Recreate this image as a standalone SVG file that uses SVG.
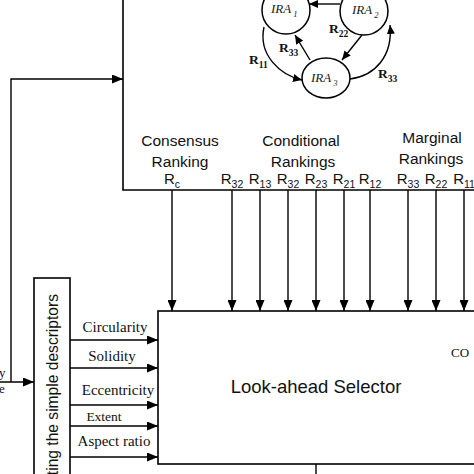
<svg xmlns="http://www.w3.org/2000/svg" width="474" height="474" viewBox="0 0 474 474">
<style>
.ln{fill:none;stroke:#000;stroke-width:1.4}
.box{fill:#fff;stroke:#000;stroke-width:1.6}
.sans{font-family:"Liberation Sans",Arial,sans-serif;fill:#111}
.serif{font-family:"Liberation Serif","Times New Roman",serif;fill:#111}
.ira{font-family:"Liberation Serif","Times New Roman",serif;font-style:italic;font-size:13px;fill:#222}
.rb{font-family:"Liberation Serif","Times New Roman",serif;font-weight:bold;font-size:13.5px;fill:#111}
.node{fill:#fff;stroke:#000;stroke-width:1.5}
</style>
<defs>
<marker id="ah" markerUnits="userSpaceOnUse" markerWidth="12" markerHeight="9" refX="11" refY="4.5" orient="auto">
<path d="M0,0 L11,4.5 L0,9 z" fill="#000"/>
</marker>
<marker id="ahs" markerUnits="userSpaceOnUse" markerWidth="10" markerHeight="8" refX="9" refY="4" orient="auto">
<path d="M0,0 L9,4 L0,8 z" fill="#000"/>
</marker>
</defs>
<rect width="474" height="474" fill="#fff"/>

<!-- top box (ranking generator) -->
<g id="ranking-box">
<path class="box" d="M123,-2 L123,190 L476,190" fill="none"/>
<g class="sans" font-size="15.5" text-anchor="middle">
<text x="180" y="146">Consensus</text>
<text x="180" y="167">Ranking</text>
<text x="301" y="146">Conditional</text>
<text x="303" y="167">Rankings</text>
<text x="432" y="143">Marginal</text>
<text x="431" y="164">Rankings</text>
</g>
<g class="sans" font-size="15" text-anchor="middle">
<text x="172" y="184">R<tspan font-size="10.5" dy="4">c</tspan></text>
<text x="232" y="184">R<tspan font-size="10.5" dy="4">32</tspan></text>
<text x="260" y="184">R<tspan font-size="10.5" dy="4">13</tspan></text>
<text x="288" y="184">R<tspan font-size="10.5" dy="4">32</tspan></text>
<text x="316" y="184">R<tspan font-size="10.5" dy="4">23</tspan></text>
<text x="344" y="184">R<tspan font-size="10.5" dy="4">21</tspan></text>
<text x="370" y="184">R<tspan font-size="10.5" dy="4">12</tspan></text>
<text x="408" y="184">R<tspan font-size="10.5" dy="4">33</tspan></text>
<text x="436" y="184">R<tspan font-size="10.5" dy="4">22</tspan></text>
<text x="464" y="184">R<tspan font-size="10.5" dy="4">11</tspan></text>
</g>
</g>

<!-- IRA graph nodes -->
<g id="ira1">
<circle class="node" cx="286" cy="10" r="24"/>
<text class="ira" x="271" y="13">IRA<tspan font-size="8.5" dx="2" dy="4">1</tspan></text>
</g>
<g id="ira2">
<circle class="node" cx="364" cy="11" r="24"/>
<text class="ira" x="352" y="14">IRA<tspan font-size="8.5" dx="2" dy="4">2</tspan></text>
</g>
<g id="ira3">
<ellipse class="node" cx="326" cy="78" rx="24" ry="20"/>
<text class="ira" x="311" y="82">IRA<tspan font-size="8.5" dx="2" dy="4">3</tspan></text>
</g>

<!-- descriptor box -->
<g id="descriptors">
<rect class="box" x="34" y="278" width="36" height="210"/>
<text class="sans" font-size="15.6" text-anchor="end" transform="translate(58,294) rotate(-90)">ting the simple descriptors</text>
</g>

<!-- selector box -->
<g id="selector">
<rect class="box" x="158" y="311" width="330" height="153"/>
<text class="sans" font-size="18.5" text-anchor="middle" x="316" y="393">Look-ahead Selector</text>
<text class="serif" font-size="13" x="451" y="357">CO</text>
</g>

<!-- input labels (cropped) -->
<g id="input">
<text class="serif" font-size="13" x="-1" y="377">y</text>
<text class="serif" font-size="13" x="-1" y="393">e</text>
</g>

<g id="connectors">
<!-- graph edges -->
<path class="ln" d="M340,4 L309,4" marker-end="url(#ahs)"/>
<path class="ln" d="M362,35 L342,60" marker-end="url(#ahs)"/>
<path class="ln" d="M310,60 L295,35" marker-end="url(#ahs)"/>
<path class="ln" d="M264,27 C258,55 280,75 302,80" marker-end="url(#ahs)"/>
<path class="ln" d="M350,79 C375,76 393,56 390,25" marker-end="url(#ahs)"/>
<!-- feedback / input -->
<path class="ln" d="M11,382 L11,79 L123,79" marker-end="url(#ah)"/>
<path class="ln" d="M0,382 L34,382" marker-end="url(#ah)"/>
<!-- rankings down -->
<path class="ln" d="M172,190 L172,311" marker-end="url(#ah)"/>
<path class="ln" d="M232,190 L232,311" marker-end="url(#ah)"/>
<path class="ln" d="M260,190 L260,311" marker-end="url(#ah)"/>
<path class="ln" d="M288,190 L288,311" marker-end="url(#ah)"/>
<path class="ln" d="M316,190 L316,311" marker-end="url(#ah)"/>
<path class="ln" d="M344,190 L344,311" marker-end="url(#ah)"/>
<path class="ln" d="M370,190 L370,311" marker-end="url(#ah)"/>
<path class="ln" d="M408,190 L408,311" marker-end="url(#ah)"/>
<path class="ln" d="M436,190 L436,311" marker-end="url(#ah)"/>
<path class="ln" d="M464,190 L464,311" marker-end="url(#ah)"/>
<!-- descriptors -->
<path class="ln" d="M70,340 L158,340" marker-end="url(#ah)"/>
<path class="ln" d="M70,368 L158,368" marker-end="url(#ah)"/>
<path class="ln" d="M70,405 L158,405" marker-end="url(#ah)"/>
<path class="ln" d="M70,426 L158,426" marker-end="url(#ah)"/>
<path class="ln" d="M70,457 L158,457" marker-end="url(#ah)"/>
<path class="ln" d="M316,464 L316,476"/>
</g>

<!-- edge labels -->
<g id="edge-labels">
<text class="rb" x="329" y="33">R<tspan font-size="9.5" dy="4">22</tspan></text>
<text class="rb" x="279" y="52">R<tspan font-size="9.5" dy="4">33</tspan></text>
<text class="rb" x="249" y="64">R<tspan font-size="9.5" dy="4">11</tspan></text>
<text class="rb" x="378" y="78">R<tspan font-size="9.5" dy="4">33</tspan></text>
<g class="serif" font-size="15" text-anchor="middle">
<text x="115" y="332">Circularity</text>
<text x="112" y="361">Solidity</text>
<text x="118" y="395">Eccentricity</text>
<text x="104" y="421" font-size="13.5">Extent</text>
<text x="114" y="446">Aspect ratio</text>
</g>
</g>
</svg>
